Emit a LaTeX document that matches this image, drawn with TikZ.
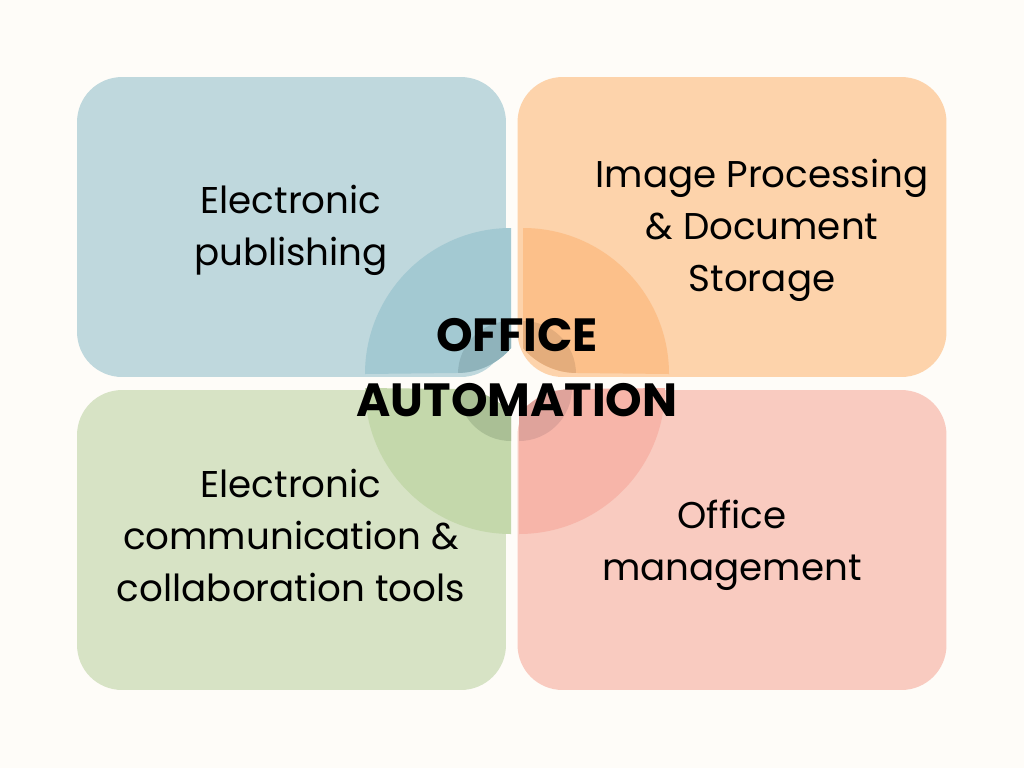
\documentclass[tikz,border=0pt]{standalone}
\usepackage{fontspec}
\setmainfont{Poppins}
\usetikzlibrary{positioning}

\definecolor{bgcream}{HTML}{FEFCF8}
\definecolor{pubbox}{HTML}{BFD8DD}
\definecolor{publeaf}{HTML}{A3C9D2}
\definecolor{pubdark}{HTML}{8FB3BB}
\definecolor{imgbox}{HTML}{FDD3AB}
\definecolor{imgleaf}{HTML}{FCC08A}
\definecolor{imgdark}{HTML}{E4AD7C}
\definecolor{combox}{HTML}{D7E3C5}
\definecolor{comleaf}{HTML}{C4D8AB}
\definecolor{comdark}{HTML}{AABF95}
\definecolor{mgtbox}{HTML}{F9CBC0}
\definecolor{mgtleaf}{HTML}{F7B5A9}
\definecolor{mgtdark}{HTML}{DFA39B}

% quarter leaf: corner, x-flip, y-flip, colour prefix
\newcommand{\leaf}[4]{
    \begin{scope}[shift={(#1)}, xscale=#2, yscale=#3]
        \fill[#4leaf] (0,-146) -- (0,-26) arc[start angle=40.4, end angle=90, radius=71]
            -- (-146,0) arc[start angle=180, end angle=270, radius=146] -- cycle;
        \begin{scope}
            \clip (0,-146) -- (0,-26) arc[start angle=40.4, end angle=90, radius=71]
                -- (-146,0) arc[start angle=180, end angle=270, radius=146] -- cycle;
            \fill[#4dark] (0,0) circle[radius=53];
        \end{scope}
    \end{scope}
}

\begin{document}
\begin{tikzpicture}[
        x=0.02cm, y=-0.02cm,
        box/.style={rectangle, rounded corners=0.9cm, minimum width=8.58cm, minimum height=6cm, inner sep=0pt},
        txt/.style={align=center, font=\fontsize{21.2pt}{29.6pt}\selectfont, text=black},
        title/.style={align=center, font=\fontsize{26.5pt}{37pt}\selectfont\bfseries, text=black}
    ]

    \fill[bgcream] (0,0) rectangle (1024,768);

    % Cajas
    \node[box, fill=pubbox] (pub) at (291.5,227) {};
    \node[box, fill=imgbox] (img) at (732,227) {};
    \node[box, fill=combox] (com) at (291.5,540) {};
    \node[box, fill=mgtbox] (mgt) at (732,540) {};

    % Cuartos de circulo
    \leaf{511,374}{1}{1}{pub}
    \leaf{523,374}{-1}{1}{img}
    \leaf{511,388}{1}{-1}{com}
    \leaf{519,388}{-1}{-1}{mgt}

    % Textos
    \node[txt] (pubtxt) at (291,230) {Electronic\\publishing};
    \node[txt] (imgtxt) at (762,230.5) {Image Processing\\\& Document\\Storage};
    \node[txt] (comtxt) at (291,535) {Electronic\\communication \&\\collaboration tools};
    \node[txt] (mgttxt) at (732,545) {Office\\management};

    \node[title] (oa) at (517,368) {OFFICE\\AUTOMATION};

\end{tikzpicture}
\end{document}
